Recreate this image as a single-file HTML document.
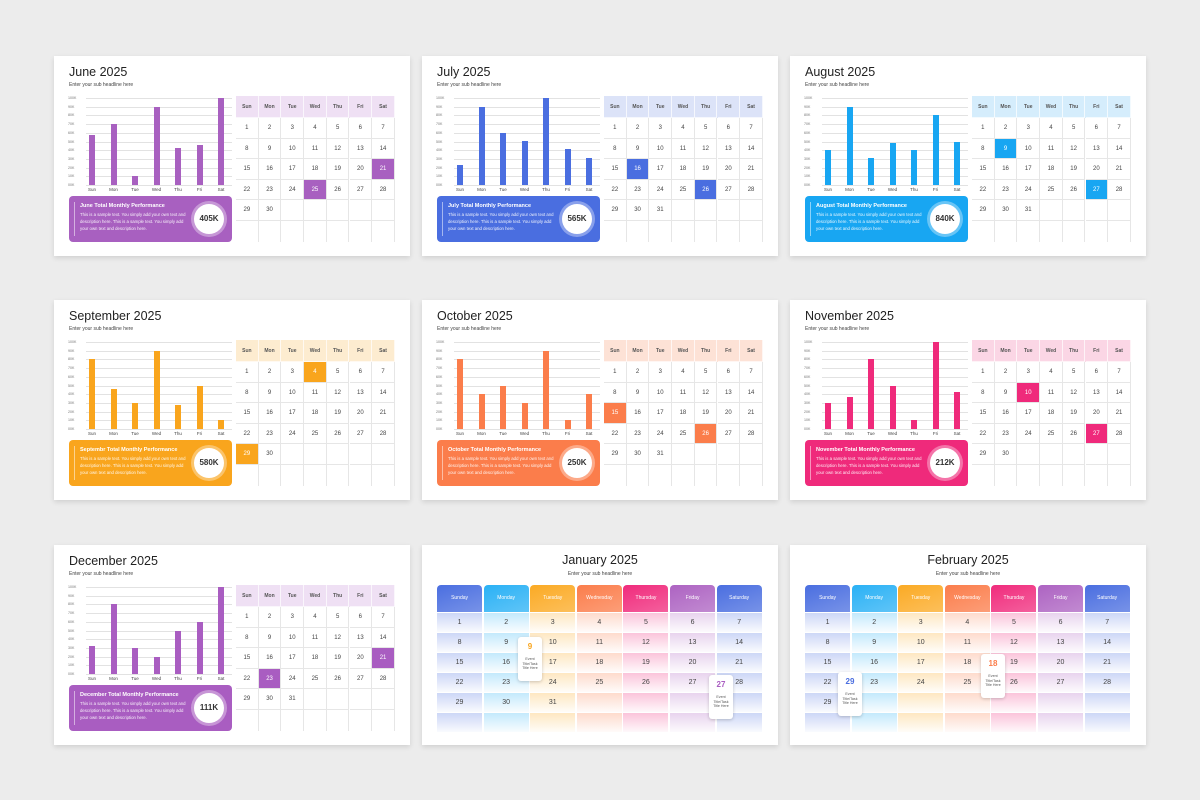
<!DOCTYPE html>
<html><head><meta charset="utf-8">
<style>
*{margin:0;padding:0;box-sizing:border-box}
body{width:1200px;height:800px;background:#ececec;font-family:"Liberation Sans",sans-serif;position:relative;overflow:hidden}
.s{position:absolute;width:356px;height:200px;background:#fff;box-shadow:0 2px 5px rgba(0,0,0,.12)}
.a{position:absolute}
.t{font-size:12.5px;color:#222;left:15px;top:9px}
.sub{font-size:5px;color:#444;left:15px;top:26px}
.gl{position:absolute;left:32px;width:146px;height:1px;background:#e2e2e2}
.yl{position:absolute;left:14px;font-size:3.6px;color:#777}
.dl{position:absolute;font-size:4.5px;color:#444;width:20px;text-align:center;top:131px}
.box{left:15px;top:140px;width:163px;height:46px;border-radius:4px;color:#fff}
.cell{position:absolute;font-size:6px;color:#444;text-align:center;border-right:1px solid #e6e6e6;border-bottom:1px solid #e6e6e6}
.hd{font-weight:bold;color:#555;font-size:5px}
</style></head><body>
<script>
const months=[
["June 2025","June","#a860c0","#efe0f4",[57,70,10,90,42,46,100],[21,25],30,"405K"],
["July 2025","July","#4a6ee0","#dce3f8",[23,90,60,51,100,41,31],[16,26],31,"565K"],
["August 2025","August","#18a6f2","#d5edfc",[40,90,31,48,40,80,50],[9,27],31,"840K"],
["September 2025","Septembr","#f9a51d","#fdecd0",[80,46,30,90,28,50,10],[4,29],30,"580K"],
["October 2025","October","#fb7d4b","#fde2d6",[80,40,50,30,90,10,40],[15,26],31,"250K"],
["November 2025","November","#ef2a7b","#fbd6e5",[30,37,80,50,10,100,42],[10,27],30,"212K"],
["December 2025","December","#a95dc1","#efe0f4",[32,80,30,20,50,60,100],[21,23],31,"111K"]];
const pos=[[54,56],[422,56],[790,56],[54,300],[422,300],[790,300],[54,545],[422,545],[790,545]];
const days=["Sun","Mon","Tue","Wed","Thu","Fri","Sat"];
let h="";
months.forEach((m,i)=>{
 const [x,y]=pos[i];let s=`<div class="s" style="left:${x}px;top:${y}px">`;
 s+=`<div class="a t">${m[0]}</div><div class="a sub">Enter your sub headline here</div>`;
 for(let k=0;k<=10;k++){const yy=129-k*8.7;s+=`<div class="gl" style="top:${yy}px"></div><div class="yl" style="top:${yy-2}px">${k==0?"00K":(k*10)+"K"}</div>`;}
 m[4].forEach((v,j)=>{const c=38+21.5*j;const hh=v*0.87;s+=`<div class="a" style="left:${c-3}px;top:${129-hh}px;width:6px;height:${hh}px;background:${m[2]}"></div><div class="dl" style="left:${c-10}px">${days[j]}</div>`;});
 s+=`<div class="a box" style="background:${m[2]}"><div class="a" style="left:5px;top:6px;width:1px;height:34px;background:rgba(255,255,255,.5)"></div><div class="a" style="left:11px;top:7px;font-size:5.5px;font-weight:bold">${m[1]} Total Monthly Performance</div><div class="a" style="left:11px;top:15px;font-size:4.3px;line-height:7px;width:110px;opacity:.9">This is a sample text. You simply add your own text and description here. This is a sample text. You simply add your own text and description here.</div><div class="a" style="left:122px;top:5px;width:36px;height:36px;border-radius:50%;background:rgba(255,255,255,.35)"></div><div class="a" style="left:125px;top:8px;width:30px;height:30px;border-radius:50%;background:#fff;color:#333;font-weight:bold;font-size:8px;line-height:30px;text-align:center">${m[7]}</div></div>`;
 const cx=182,cw=22.7,rows=[62,82.5,103,123.5,144,165,186];
 s+=`<div class="a" style="left:${cx}px;top:40px;width:${cw*7}px;height:22px;background:${m[3]}"></div>`;
 days.forEach((d,j)=>{s+=`<div class="cell hd" style="left:${cx+j*cw}px;top:40px;width:${cw}px;height:22px;line-height:22px;border-color:rgba(255,255,255,.7)">${d}</div>`;});
 for(let r=0;r<6;r++)for(let j=0;j<7;j++){const n=r*7+j+1;const hl=m[5].includes(n);const t=n<=m[6]?n:"";
  s+=`<div class="cell" style="left:${cx+j*cw}px;top:${rows[r]}px;width:${cw}px;height:${rows[r+1]-rows[r]}px;line-height:${rows[r+1]-rows[r]}px;${hl?`background:${m[2]};color:#fff;`:""}${r==5?"border-bottom:none;":""}">${t}</div>`;}
 s+="</div>";h+=s;});
const hc=[["Sunday","#4a6ee0","74,110,224"],["Monday","#2ab1f5","42,177,245"],["Tuesday","#fbaa24","251,170,36"],["Wednesday","#fb7d4b","251,125,75"],["Thursday","#f02b7c","240,43,124"],["Friday","#ad63c2","173,99,194"],["Saturday","#4a6ee0","74,110,224"]];
function big(i,title,n,calls){const [x,y]=pos[i];let s=`<div class="s" style="left:${x}px;top:${y}px">`;
 s+=`<div class="a" style="left:0;width:356px;top:8px;text-align:center;font-size:12.5px;color:#222">${title}</div><div class="a" style="left:0;width:356px;top:26px;text-align:center;font-size:5px;color:#444">Enter your sub headline here</div>`;
 const w=46.6;
 hc.forEach((c,j)=>{const l=15+j*w;s+=`<div class="a" style="left:${l}px;top:40px;width:${w-1.5}px;height:27px;border-radius:4px 4px 0 0;background:linear-gradient(160deg,${c[1]} 0%,rgba(${c[2]},.75) 100%);color:#fff;font-size:5px;text-align:center;line-height:27px">${c[0]}</div>`;
  for(let r=0;r<6;r++){const d=r*7+j+1;s+=`<div class="a" style="left:${l}px;top:${68+r*20}px;width:${w-1.5}px;height:19px;background:linear-gradient(to bottom,rgba(${c[2]},.28),rgba(${c[2]},.03));font-size:7px;color:#444;text-align:center;line-height:19px">${d<=n?d:""}</div>`;}});
 calls.forEach(c=>{s+=`<div class="a" style="left:${c[1]}px;top:${c[2]}px;width:24px;height:44px;background:#fff;border-radius:3px;box-shadow:0 1px 3px rgba(0,0,0,.2);text-align:center"><div style="font-size:8px;font-weight:bold;color:${c[3]};margin-top:5px">${c[0]}</div><div style="font-size:3.6px;color:#555;margin-top:6px;line-height:4.5px;padding:0 2px">Event Title/Task Title Here</div></div>`;});
 s+="</div>";h+=s;}
big(7,"January 2025",31,[[9,96,92,"#f9a51d"],[27,287,130,"#a95dc1"]]);
big(8,"February 2025",29,[[29,48,127,"#4a6ee0"],[18,191,109,"#fb7d4b"]]);
document.write(h);
</script>
</body></html>
